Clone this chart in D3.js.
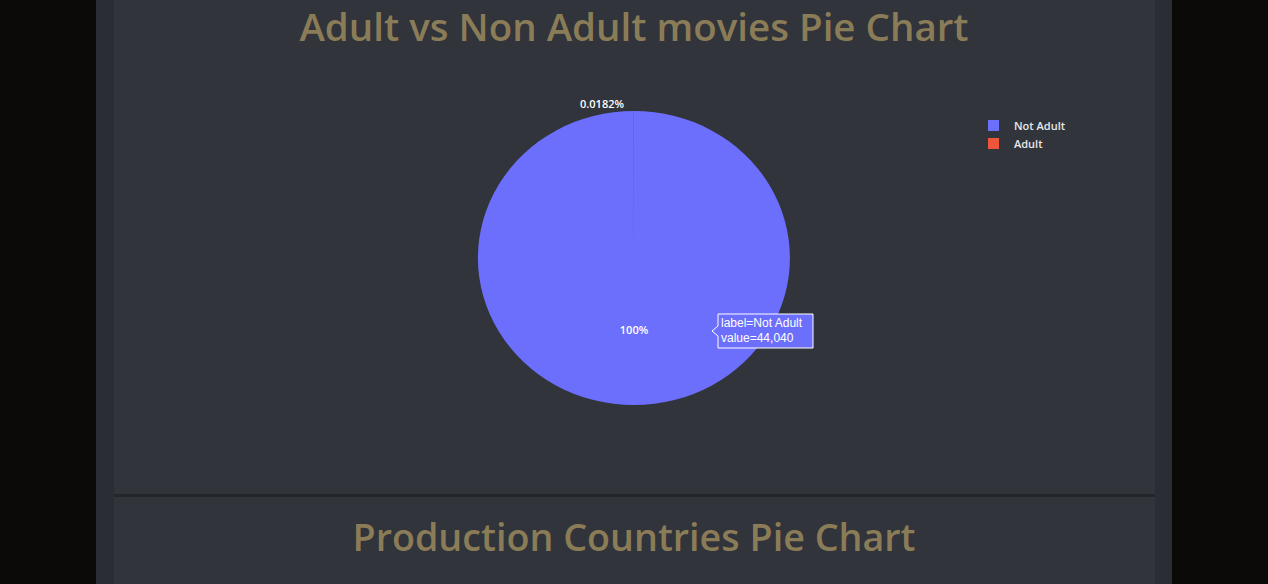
<!DOCTYPE html>
<html><head><meta charset="utf-8">
<script src="https://cdn.jsdelivr.net/npm/d3@7"></script>
<style>body{margin:0;background:#0b0a08;overflow:hidden}</style>
</head><body>
<svg id="c" width="1268" height="584"></svg>
<script>
const categories = ["Not Adult", "Adult"];
const values = [44040, 8];
const colors = ["#6c6ffc", "#ef553b"];

const svg = d3.select("#c");
svg.append("rect").attr("x",96).attr("y",0).attr("width",1076).attr("height",584).attr("fill","#2a2d33");
svg.append("rect").attr("x",114).attr("y",0).attr("width",1041).attr("height",494).attr("fill","#31343b");
svg.append("rect").attr("x",114).attr("y",497).attr("width",1041).attr("height",87).attr("fill","#31343b");
svg.append("rect").attr("x",114).attr("y",494).attr("width",1041).attr("height",3).attr("fill","#24262b");

svg.append("text").attr("x",634).attr("y",41).attr("text-anchor","middle")
  .attr("font-family","Open Sans, sans-serif").attr("font-size",38.5).attr("font-weight",600)
  .attr("fill","#8b7c58").text("Adult vs Non Adult movies Pie Chart");
svg.append("text").attr("x",634).attr("y",551).attr("text-anchor","middle")
  .attr("font-family","Open Sans, sans-serif").attr("font-size",37.7).attr("font-weight",600)
  .attr("fill","#8b7c58").text("Production Countries Pie Chart");

const total = d3.sum(values);
const pie = d3.pie().sort(null).value(d=>d)(values);
const r = 156;
const arc = d3.arc().innerRadius(0).outerRadius(r);
const g = svg.append("g").attr("transform","translate(634,258) scale(1,0.943)");
g.selectAll("path").data(pie).join("path").attr("d",arc).attr("fill",(d,i)=>colors[i]);

const fmt = v => d3.format(".3~r")(v/total*100) + "%";
svg.append("text").attr("x",634).attr("y",334).attr("text-anchor","middle")
  .attr("font-family","Open Sans, sans-serif").attr("font-size",11).attr("font-weight",600).attr("fill","#fff").text(d3.format(".0f")(values[0]/total*100)+"%");
svg.append("text").attr("x",602).attr("y",108).attr("text-anchor","middle")
  .attr("font-family","Open Sans, sans-serif").attr("font-size",11).attr("font-weight",600).attr("fill","#fff").text(fmt(values[1]));

const lg = svg.append("g").attr("transform","translate(988,120)");
categories.forEach((c,i)=>{
  lg.append("rect").attr("x",0).attr("y",i*18).attr("width",11).attr("height",11).attr("fill",colors[i]);
  lg.append("text").attr("x",26).attr("y",i*18+9.5).attr("font-family","Open Sans, sans-serif")
    .attr("font-size",11).attr("font-weight",600).attr("fill","#e8e8e8").text(c);
});

const tt = svg.append("g").attr("transform","translate(718,314)");
tt.append("path").attr("d","M0,0 H95 V34 H0 V22 L-6,17 L0,12 Z").attr("fill","#6c6ffc").attr("stroke","#fff").attr("stroke-width",1);
tt.append("text").attr("x",3).attr("y",13).attr("font-family","Liberation Sans, Arial, sans-serif").attr("font-size",12).attr("fill","#fff").text("label="+categories[0]);
tt.append("text").attr("x",3).attr("y",28).attr("font-family","Liberation Sans, Arial, sans-serif").attr("font-size",12).attr("fill","#fff").text("value="+d3.format(",")(values[0]));
</script>
</body></html>
